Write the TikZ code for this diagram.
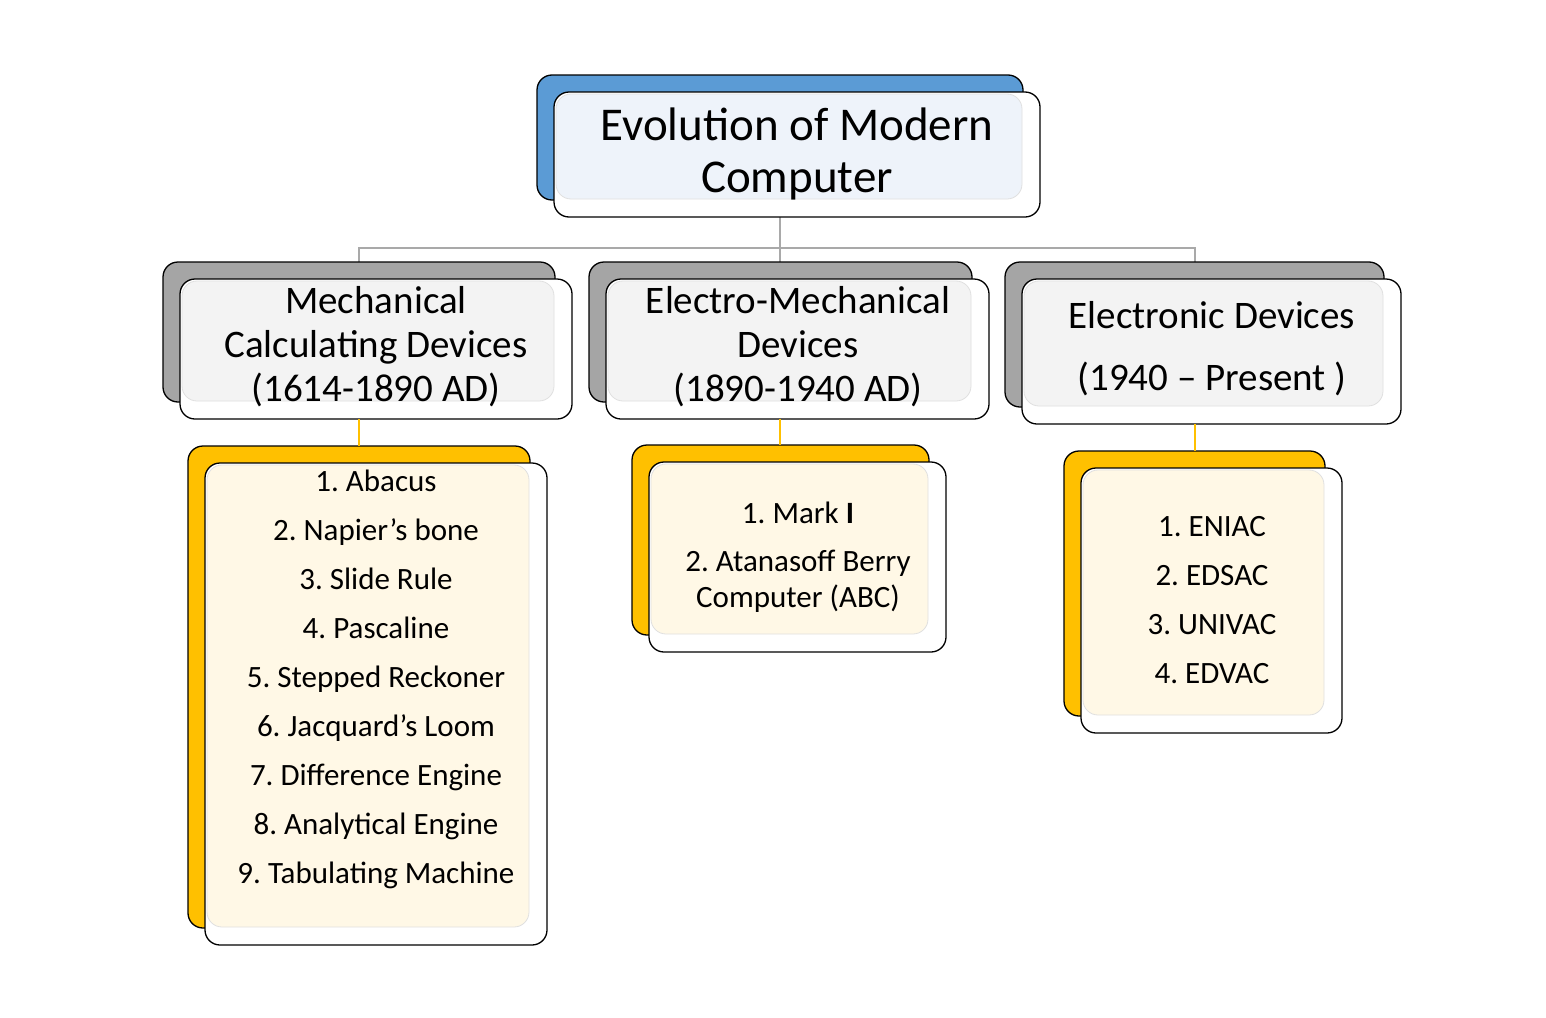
\documentclass[tikz,border=0pt]{standalone}
\usepackage{fontspec}
\setmainfont{Carlito}
\frenchspacing
\definecolor{cblue}{HTML}{5B9BD5}
\definecolor{tblue}{HTML}{EEF3FA}
\definecolor{cgray}{HTML}{A5A5A5}
\definecolor{tgray}{HTML}{F3F3F3}
\definecolor{cgold}{HTML}{FFC000}
\definecolor{tgold}{HTML}{FFF8E6}
\definecolor{lgray}{HTML}{A9A9A9}
\tikzset{
  boxbase/.style={rectangle,rounded corners=15pt,inner sep=0pt,outer sep=0pt},
  backbox/.style={boxbase,draw=black,line width=1.3pt,fill=#1},
  frontbox/.style={boxbase,draw=black,line width=1.3pt,fill=white},
  tintbox/.style={boxbase,fill=#1,draw=black!12,line width=0.8pt},
  graylink/.style={draw=lgray,line width=2pt},
  goldlink/.style={draw=cgold,line width=1.5pt},
  ttl/.style={align=center,font=\fontsize{47}{52}\selectfont},
  lvl/.style={align=center,font=\fontsize{39}{44}\selectfont},
  lst/.style={align=center,font=\fontsize{31}{49}\selectfont},
}
% name, x1,y1,x2,y2 (back box), colour, tint
\newcommand{\evobox}[7]{%
  \node[backbox=#6,minimum width={#4-#2},minimum height={#5-#3}] (#1b) at ({(#2+#4)/2},{(#3+#5)/2}) {};
  \node[frontbox,minimum width={#4-#2},minimum height={#5-#3}] (#1) at ({(#2+#4)/2+17},{(#3+#5)/2+17}) {};
  \node[tintbox=#7,minimum width={#4-#2-20},minimum height={#5-#3-20}] (#1t) at ({(#2+#4)/2+9},{(#3+#5)/2+9}) {};
}
\begin{document}
\begin{tikzpicture}[x=1pt,y=-1pt]
\useasboundingbox[fill=white] (0,0) rectangle (1546,1017);
\coordinate (hub) at (780,248);
\coordinate (xa) at (359,0);
\coordinate (xc) at (1195,0);
\path[graylink] (780,217) -- (hub);
\path[graylink] (359,262) |- (hub) -| (1195,262);
\path[graylink] (hub) -- (780,262);
\evobox{top}{537}{75}{1023}{200}{cblue}{tblue}
\evobox{mech}{163}{262}{555}{402}{cgray}{tgray}
\evobox{elm}{589}{262}{972}{402}{cgray}{tgray}
\evobox{ele}{1005}{262}{1384}{407}{cgray}{tgray}
\evobox{la}{188}{446}{530}{928}{cgold}{tgold}
\evobox{lb}{632}{445}{929}{635}{cgold}{tgold}
\evobox{lc}{1064}{451}{1325}{716}{cgold}{tgold}
\path[goldlink] (mech.south -| xa) -- (lab.north -| xa);
\path[goldlink] (elm.south -| hub) -- (lbb.north -| hub);
\path[goldlink] (ele.south -| xc) -- (lcb.north -| xc);
\node[ttl] (ttext) at (797,154) {Evolution of Modern\\Computer};
\node[lvl] (mtext) at (376,347) {Mechanical\\Calculating Devices\\(1614-1890 AD)};
\node[lvl] (etext) at (798,347) {Electro-Mechanical\\Devices\\(1890-1940 AD)};
\node[lvl,font=\fontsize{39}{62}\selectfont] (dtext) at (1212,349) {Electronic Devices\\(1940 – Present )};
\node[lst] (atext) at (376,679) {1. Abacus\\2. Napier’s bone\\3. Slide Rule\\4. Pascaline\\5. Stepped Reckoner\\6. Jacquard’s Loom\\7. Difference Engine\\8. Analytical Engine\\9. Tabulating Machine};
\node[lst,font=\fontsize{31}{36}\selectfont] (btext) at (798,557) {1. Mark \textbf{I}\\[12pt]2. Atanasoff Berry\\Computer (ABC)};
\node[lst] (ctext) at (1212,600) {1. ENIAC\\2. EDSAC\\3. UNIVAC\\4. EDVAC};
\end{tikzpicture}
\end{document}
